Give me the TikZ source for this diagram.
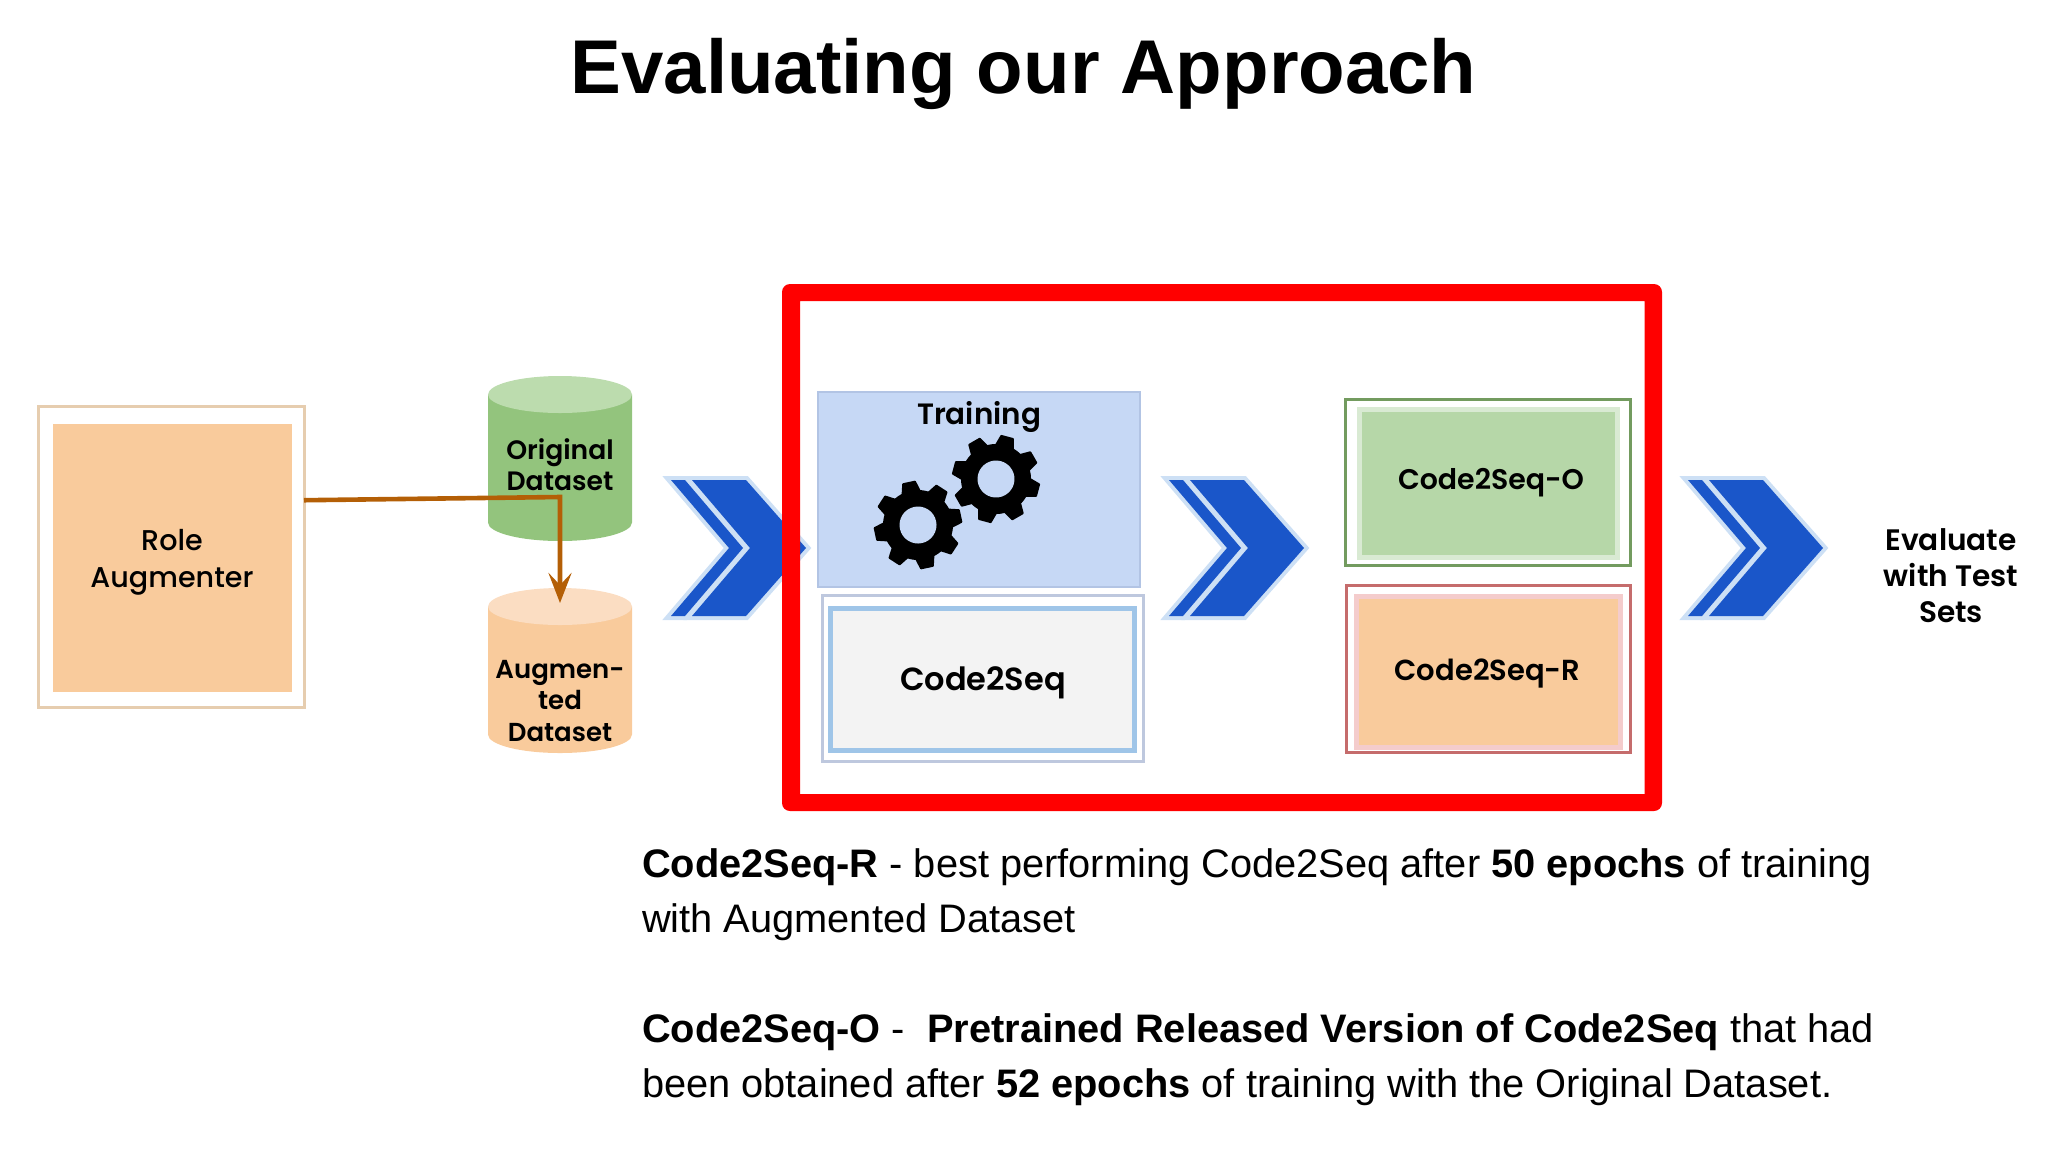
\documentclass[tikz,border=0pt]{standalone}
\usepackage{fontspec}
\setmainfont{Liberation Sans}
\newfontfamily\labelfont[BoldFont=Poppins SemiBold]{Poppins Medium}
\usetikzlibrary{arrows.meta,calc}
\definecolor{frame}{HTML}{FF0000}
\definecolor{peach}{HTML}{F9CB9C}
\definecolor{peachtop}{HTML}{FBDDC2}
\definecolor{peachedge}{HTML}{E6CDAF}
\definecolor{moss}{HTML}{93C47D}
\definecolor{mosstop}{HTML}{BCDCAE}
\definecolor{sage}{HTML}{B6D7A8}
\definecolor{sagepale}{HTML}{D9EAD3}
\definecolor{sageedge}{HTML}{739B5F}
\definecolor{roseedge}{HTML}{C56C6C}
\definecolor{rosepale}{HTML}{F4CCCC}
\definecolor{trainblue}{HTML}{C6D8F5}
\definecolor{trainedge}{HTML}{B2C4E4}
\definecolor{seqedge}{HTML}{BEC8DE}
\definecolor{seqline}{HTML}{9FC5E8}
\definecolor{seqgray}{HTML}{F3F3F3}
\definecolor{chevblue}{HTML}{1A56C9}
\definecolor{chevglow}{HTML}{CDE0F5}
\definecolor{rust}{HTML}{B45F06}
\tikzset{
  every node/.style={inner sep=0pt,outer sep=0pt},
  tag/.style={font=\labelfont\bfseries\fontsize{13}{15.7}\selectfont,align=center,text=black},
  plaintag/.style={font=\labelfont\fontsize{14.3}{18.3}\selectfont,align=center,text=black},
  shell/.style={draw=#1,fill=white,line width=1.5pt,rectangle},
  core/.style 2 args={draw=#1,fill=#2,line width=2.5pt,rectangle},
  chevpiece/.style={fill=chevblue,preaction={draw=chevglow,line width=4pt,line join=miter}},
  body/.style={anchor=north west,align=left,font=\fontsize{19.9}{27.5}\selectfont,text=black},
}
\newcommand{\chevronat}[1]{
  \begin{scope}[shift={(#1,0)}]
    \path[chevpiece] (0,480) -- (14,480) -- (72,548) -- (14,616) -- (0,616) -- (58,548) -- cycle;
    \path[chevpiece] (21,480) -- (75,480) -- (135,548) -- (75,616) -- (21,616) -- (79,548) -- cycle;
  \end{scope}
}
\newcommand{\gearat}[3]{
  \begin{scope}[shift={(#1,#2)},rotate=#3]
    \fill (0,0) circle (35);
    \foreach \a in {0,45,...,315}
      \fill[rotate=\a,draw=black,line width=1pt,line join=round] (32,-9) -- (43,-6) -- (43,6) -- (32,9) -- cycle;
    \fill[trainblue] (0,0) circle (18.5);
  \end{scope}
}
\newcommand{\drumat}[4]{
  \begin{scope}[shift={(560,#1)}]
    \fill[#3] (-72,18.5) -- (-72,146.5) arc[start angle=180,end angle=0,x radius=72,y radius=18.5] -- (72,18.5) -- cycle;
    \fill[#4] (0,18.5) ellipse [x radius=72,y radius=18.5];
  \end{scope}
}
\begin{document}
\begin{tikzpicture}[x=.5pt,y=-.5pt]
  \useasboundingbox (0,0) rectangle (2048,1152);
  \node[font=\bfseries\fontsize{38.1}{44}\selectfont] (title) at (1023.5,74) {Evaluating our Approach};

  \node[shell=peachedge,minimum width=133pt,minimum height=150.5pt] (roleout) at (171,556.5) {};
  \node[core={peach}{peach},minimum width=117pt,minimum height=131.5pt] (role) at (172,558) {};
  \node[plaintag] (roletext) at (172,562.5) {Role\\Augmenter};

  \drumat{376}{541}{moss}{mosstop}
  \node[tag,font=\labelfont\bfseries\fontsize{13.3}{15.7}\selectfont] (origtext) at (560,464.5) {Original\\Dataset};
  \drumat{588}{753}{peach}{peachtop}
  \node[tag] (augmtext) at (560,701) {Augmen-\\ted\\Dataset};

  \coordinate (rolepin) at ($(roleout.north east)!.313!(roleout.south east)$);
  \coordinate (elbow) at (560,497);
  \coordinate (augmpin) at (560,603);
  \draw[rust,line width=2.3pt,-{Stealth[length=15pt,width=11.5pt,inset=6pt]}] (rolepin) -- (elbow) -- (augmpin);

  \chevronat{671}
  \chevronat{1169}
  \chevronat{1688}

  \fill[frame,even odd rule] [rounded corners=4pt] (782,284) rectangle (1662,811) [sharp corners] (800,301) rectangle (1644.5,794);

  \node[draw=trainedge,fill=trainblue,line width=.8pt,minimum width=161pt,minimum height=97.5pt] (train) at (979,489.5) {};
  \node[tag,font=\labelfont\bfseries\fontsize{14.7}{17}\selectfont] (traintext) at (979,417) {Training};
  \gearat{918}{525}{12}
  \gearat{996}{479}{30}

  \node[shell=seqedge,minimum width=160.5pt,minimum height=83pt] (seqout) at (982.5,678) {};
  \node[core={seqline}{seqgray},minimum width=152pt,minimum height=71pt] (seq) at (982.5,679) {};
  \node[tag,font=\labelfont\bfseries\fontsize{16}{19}\selectfont] (seqtext) at (983,683) {Code2Seq};

  \node[shell=sageedge,minimum width=142.5pt,minimum height=83pt] (seqoout) at (1487.5,482) {};
  \node[core={sagepale}{sage},minimum width=129pt,minimum height=74pt] (seqo) at (1488,483) {};
  \node[tag,font=\labelfont\bfseries\fontsize{14.2}{17}\selectfont] (seqotext) at (1491,482.5) {Code2Seq-O};

  \node[shell=roseedge,minimum width=142pt,minimum height=83.5pt] (seqrout) at (1488,668.5) {};
  \node[core={rosepale}{peach},minimum width=132pt,minimum height=75.5pt] (seqr) at (1488,671.5) {};
  \node[tag,font=\labelfont\bfseries\fontsize{14.5}{17}\selectfont] (seqrtext) at (1487.5,673.5) {Code2Seq-R};

  \node[tag,font=\labelfont\bfseries\fontsize{14.8}{18}\selectfont] (evaltext) at (1951,576) {Evaluate\\with Test\\Sets};

  \node[body] (noter) at (642,849) {\textbf{Code2Seq-R} - best performing Code2Seq after \textbf{50 epochs} of training\\with Augmented Dataset};
  \node[body] (noteo) at (642,1014) {\textbf{Code2Seq-O} -\ \ \textbf{Pretrained Released Version of Code2Seq} that had\\been obtained after \textbf{52 epochs} of training with the Original Dataset.};
\end{tikzpicture}
\end{document}
